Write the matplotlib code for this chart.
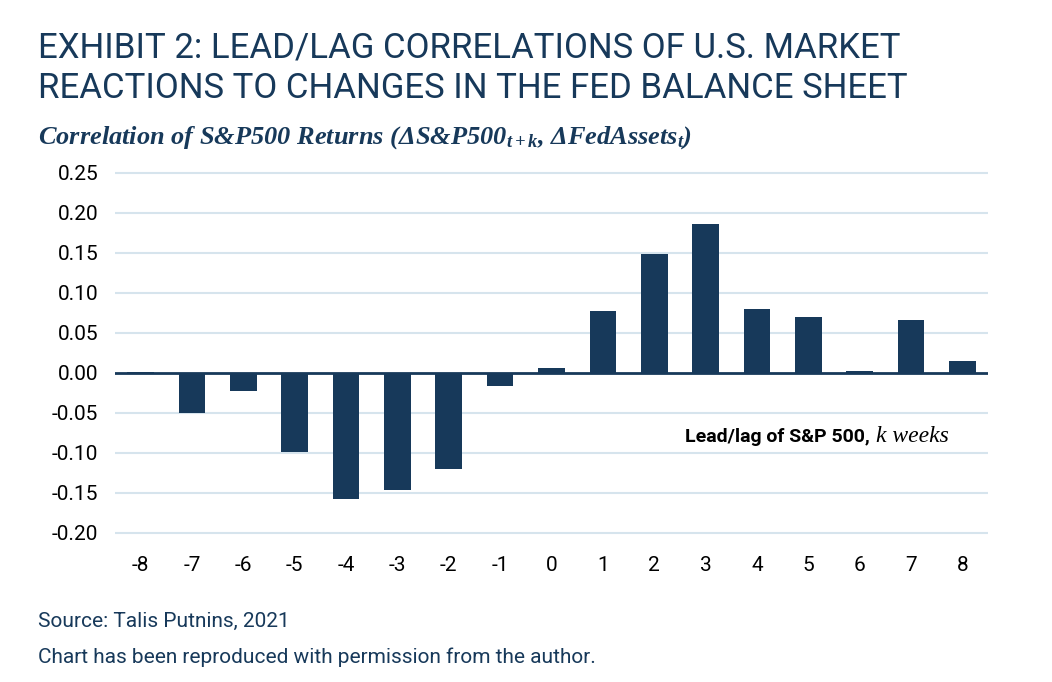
import numpy as np
import matplotlib.pyplot as plt

lags = [-8, -7, -6, -5, -4, -3, -2, -1, 0, 1, 2, 3, 4, 5, 6, 7, 8]
correlaciones = [0.001, -0.050, -0.023, -0.099, -0.158, -0.146, -0.120, -0.016,
                 0.006, 0.078, 0.149, 0.186, 0.080, 0.070, 0.002, 0.066, 0.015]
yticks = [0.25, 0.20, 0.15, 0.10, 0.05, 0.00, -0.05, -0.10, -0.15, -0.20]

azul = '#17395a'
gris_grid = '#d6e4ed'
fuente = 'Roboto'

plt.rcParams['mathtext.fontset'] = 'custom'
plt.rcParams['mathtext.rm'] = 'Liberation Serif:bold:italic'
plt.rcParams['mathtext.it'] = 'Liberation Serif:bold:italic'
plt.rcParams['mathtext.bf'] = 'Liberation Serif:bold:italic'

fig = plt.figure(figsize=(10.52, 6.82), dpi=100)
ax = fig.add_axes([115 / 1052, 1 - 550 / 682, (988 - 115) / 1052, (550 - 165) / 682])

ax.bar(lags, correlaciones, width=0.52, color=azul, zorder=3)
ax.set_xlim(-8.5, 8.5)
ax.set_ylim(-0.22125, 0.26)
ax.set_yticks(yticks)
ax.set_yticklabels(['%.2f' % v for v in yticks], fontsize=15, family=fuente)
ax.set_xticks(lags)
ax.set_xticklabels([str(l) for l in lags], fontsize=15, family=fuente)
ax.tick_params(length=0, pad=12)
ax.tick_params(axis='x', pad=4)
for v in yticks:
    if v != 0:
        ax.axhline(v, color=gris_grid, lw=1.5, zorder=1)
ax.axhline(0, color=azul, lw=2, zorder=4)
for s in ax.spines.values():
    s.set_visible(False)

fig.text(38 / 1052, 1 - 48 / 682, 'EXHIBIT 2: LEAD/LAG CORRELATIONS OF U.S. MARKET',
         fontsize=25, color=azul, family=fuente, va='center')
fig.text(38 / 1052, 1 - 89 / 682, 'REACTIONS TO CHANGES IN THE FED BALANCE SHEET',
         fontsize=25, color=azul, family=fuente, va='center')
fig.text(38 / 1052, 1 - 138 / 682,
         'Correlation of S&P500 Returns (ΔS&P500' + r'$_{t+k}$' + ', ΔFedAssets' + r'$_{t}$' + ')',
         fontsize=19, color=azul, family='Liberation Serif', style='italic',
         weight='bold', va='center')

fig.text(870 / 1052, 1 - 437 / 682, 'Lead/lag of S&P 500,', fontsize=14,
         weight='bold', family=fuente, ha='right', va='center')
fig.text(876 / 1052, 1 - 437 / 682, 'k weeks', fontsize=17, style='italic',
         family='Liberation Serif', ha='left', va='center')

fig.text(38 / 1052, 1 - 621 / 682, 'Source: Talis Putnins, 2021',
         fontsize=15, color=azul, family=fuente, va='center')
fig.text(38 / 1052, 1 - 657 / 682, 'Chart has been reproduced with permission from the author.',
         fontsize=15, color=azul, family=fuente, va='center')

fig.savefig('out.png', dpi=100)
